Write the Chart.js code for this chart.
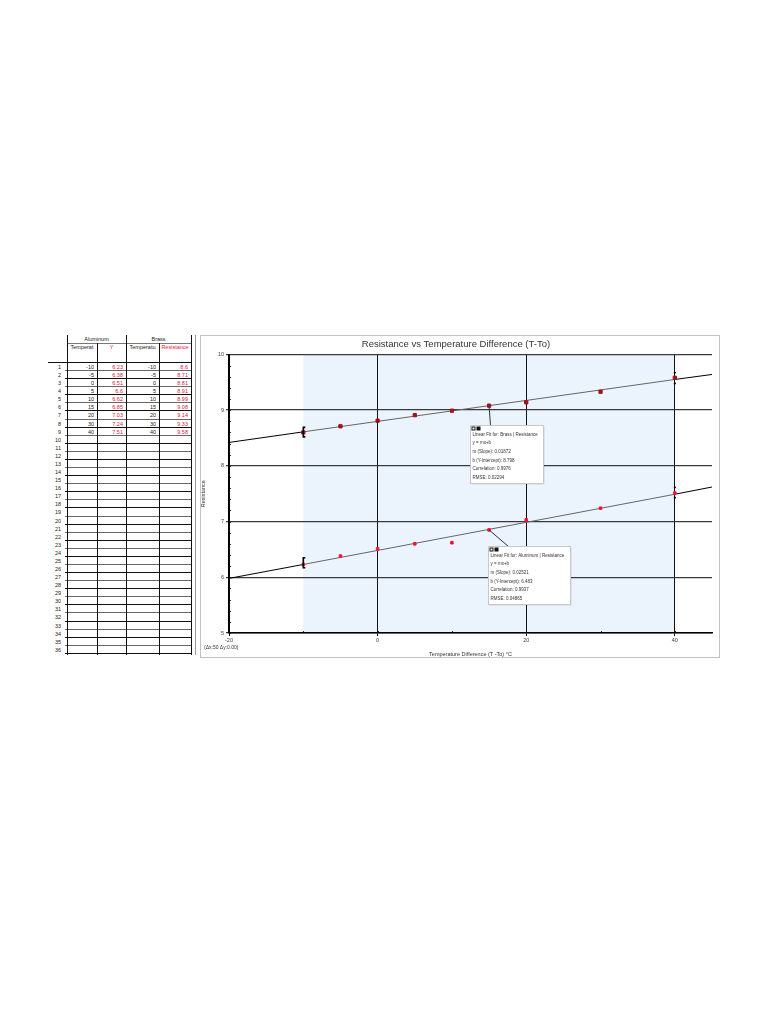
<!DOCTYPE html>
<html>
<head>
<meta charset="utf-8">
<script src="https://cdn.jsdelivr.net/npm/chart.js@4.4.1/dist/chart.umd.min.js"></script>
<style>
  html, body { margin: 0; padding: 0; background: #fff; width: 768px; height: 1024px; overflow: hidden; }
  #sheet { position: absolute; left: 48px; top: 335px; width: 150px; height: 320px; overflow: hidden;
           font-family: "Liberation Sans", Arial, sans-serif; font-size: 5.5px; color: #222; }
  #sheet div { position: absolute; }
  .cell { text-align: right; line-height: 8px; height: 8px; white-space: nowrap; overflow: hidden; }
  .red { color: #e0203a; }
  #box { position: absolute; left: 200px; top: 335px; width: 520px; height: 323px; }
  #frame { position: absolute; left: 200px; top: 335px; width: 520px; height: 323px; border: 1px solid #c4c4c4; box-sizing: border-box; pointer-events: none; }
</style>
</head>
<body>
<div id="sheet"></div>
<div id="box"><canvas id="chart"></canvas></div>
<div id="frame"></div>
<script>
// data table (left) and chart values
const alTemp = [-10, -5, 0, 5, 10, 15, 20, 30, 40];
const alRes = [6.23, 6.38, 6.51, 6.6, 6.62, 6.85, 7.03, 7.24, 7.51];
const brTemp = [-10, -5, 0, 5, 10, 15, 20, 30, 40];
const brRes = [8.6, 8.71, 8.81, 8.91, 8.99, 9.08, 9.14, 9.33, 9.58];

// fit lines (ends + range of fit)
const fitX = [-20, -10, 40, 45];
const brFit = [8.42, 8.61, 9.55, 9.64];
const alFit = [5.98, 6.23, 7.49, 7.62];

// error bars at the ends of the fitted range
const errX = [-10, 40];
const brErrLo = [8.52, 9.48];
const brErrHi = [8.69, 9.67];
const alErrLo = [6.17, 7.43];
const alErrHi = [6.35, 7.61];

const xTicks = [-20, 0, 20, 40];
const yTicks = [5, 6, 7, 8, 9, 10];
const shadeRange = [-10, 40];

const brassFitText = ["Linear Fit for: Brass | Resistance", "y = mx+b", "m (Slope): 0.01872",
  "b (Y-Intercept): 8.798", "Correlation: 0.9976", "RMSE: 0.02294"];
const alFitText = ["Linear Fit for: Aluminum | Resistance", "y = mx+b", "m (Slope): 0.02521",
  "b (Y-Intercept): 6.483", "Correlation: 0.9937", "RMSE: 0.04865"];

// ---- spreadsheet ----
const sheet = document.getElementById("sheet");
const colX = [19, 49, 78, 111, 143];
const rowTop = 27, rowH = 8.08, nRows = 36;
function add(html, css, cls) {
  const d = document.createElement("div");
  d.innerHTML = html;
  Object.assign(d.style, css);
  if (cls) d.className = cls;
  sheet.appendChild(d);
  return d;
}
// group headers
add("Aluminum", { left: colX[0] + "px", top: "1px", width: (colX[2] - colX[0]) + "px", textAlign: "center" });
add("Brass", { left: colX[2] + "px", top: "1px", width: (colX[4] - colX[2]) + "px", textAlign: "center" });
const heads = [["Temperat", ""], ["Y", "red"], ["Temperatu", ""], ["Resistance", "red"]];
heads.forEach((h, i) => {
  add(h[0], { left: colX[i] + 1 + "px", top: "9px", width: (colX[i + 1] - colX[i] - 2) + "px",
    textAlign: "center", overflow: "hidden", whiteSpace: "nowrap" }, h[1]);
});
add("", { left: colX[0] + "px", top: "8px", width: (colX[4] - colX[0]) + "px", height: "1px", background: "#777" });
add("", { left: "0px", top: rowTop + "px", width: colX[4] + "px", height: "1px", background: "#111" });
for (let r = 0; r < nRows; r++) {
  const y = rowTop + r * rowH;
  add(String(r + 1), { left: "0px", top: (y + 1) + "px", width: "13px" }, "cell");
  add("", { left: "17px", top: (y + rowH) + "px", width: (colX[4] - 17) + "px", height: "1px",
    background: r % 2 ? "#111" : "#666" });
  if (r < alTemp.length) {
    add(alTemp[r], { left: colX[0] + "px", top: (y + 1) + "px", width: (colX[1] - colX[0] - 3) + "px" }, "cell");
    add(alRes[r], { left: colX[1] + "px", top: (y + 1) + "px", width: (colX[2] - colX[1] - 3) + "px" }, "cell red");
    add(brTemp[r], { left: colX[2] + "px", top: (y + 1) + "px", width: (colX[3] - colX[2] - 3) + "px" }, "cell");
    add(brRes[r], { left: colX[3] + "px", top: (y + 1) + "px", width: (colX[4] - colX[3] - 3) + "px" }, "cell red");
  }
}
colX.forEach((x, i) => {
  add("", { left: x + "px", top: (i === 1 || i === 3 ? 8 : 0) + "px", width: "1px", height: "320px", background: "#111" });
});
add("", { left: "147px", top: "0px", width: "1px", height: "320px", background: "#999" });

// ---- chart ----
const shadePlugin = {
  id: "shade",
  beforeDraw(chart) {
    const { ctx, chartArea: a, scales: { x, y } } = chart;
    const x0 = x.getPixelForValue(shadeRange[0]), x1 = x.getPixelForValue(shadeRange[1]);
    ctx.save();
    ctx.fillStyle = "#ebf3fc";
    ctx.fillRect(x0, a.top, x1 - x0, a.bottom - a.top);
    // minor ticks
    ctx.strokeStyle = "#333";
    ctx.lineWidth = 1;
    for (let v = 5; v <= 10.001; v += 0.2) {
      const py = Math.round(y.getPixelForValue(v)) + 0.5;
      ctx.beginPath(); ctx.moveTo(a.left, py); ctx.lineTo(a.left + 2, py); ctx.stroke();
    }
    for (let v = -20; v <= 45; v += 10) {
      const px = Math.round(x.getPixelForValue(v)) + 0.5;
      ctx.beginPath(); ctx.moveTo(px, a.bottom); ctx.lineTo(px, a.bottom - 2); ctx.stroke();
    }
    ctx.restore();
  },
  afterDatasetsDraw(chart) {
    const { ctx, chartArea: a, scales: { x, y } } = chart;
    ctx.save();
    // error bars
    ctx.strokeStyle = "#000";
    ctx.lineWidth = 1.6;
    const bars = [[brErrLo, brErrHi], [alErrLo, alErrHi]];
    bars.forEach(([lo, hi]) => {
      errX.forEach((ex, i) => {
        const px = x.getPixelForValue(ex), p0 = y.getPixelForValue(lo[i]), p1 = y.getPixelForValue(hi[i]);
        ctx.beginPath();
        if (i === 0) {
          ctx.moveTo(px + 2, p1); ctx.lineTo(px, p1); ctx.lineTo(px, p0); ctx.lineTo(px + 2, p0);
        } else {
          ctx.moveTo(px - 1, p1); ctx.lineTo(px + 1, p1);
          ctx.moveTo(px - 1, p0); ctx.lineTo(px + 1, p0);
        }
        ctx.stroke();
      });
    });
    // fit info boxes
    const boxes = [
      { text: brassFitText, from: [15, 9.08], at: [12.4, 8.735], w: 73, h: 58 },
      { text: alFitText, from: [15, 6.85], at: [14.9, 6.555], w: 82, h: 58 }
    ];
    boxes.forEach(b => {
      const bx = Math.round(x.getPixelForValue(b.at[0])) + 0.5, by = Math.round(y.getPixelForValue(b.at[1])) + 0.5;
      const fx = x.getPixelForValue(b.from[0]), fy = y.getPixelForValue(b.from[1]);
      ctx.strokeStyle = "#333"; ctx.lineWidth = 1;
      ctx.beginPath(); ctx.moveTo(fx, fy); ctx.lineTo(bx + 20, by); ctx.stroke();
      ctx.fillStyle = "rgba(0,0,0,0.12)";
      ctx.fillRect(bx + 1, by + 1, b.w, b.h);
      ctx.fillStyle = "#fff";
      ctx.fillRect(bx, by, b.w, b.h);
      ctx.strokeStyle = "#c8c8c8";
      ctx.strokeRect(bx, by, b.w, b.h);
      ctx.fillStyle = "#111";
      ctx.fillRect(bx + 1, by + 1, 4, 4);
      ctx.fillRect(bx + 6, by + 1, 4, 4);
      ctx.fillStyle = "#fff";
      ctx.fillRect(bx + 2, by + 2, 2, 2);
      ctx.fillStyle = "#333";
      ctx.font = "4.5px 'Liberation Sans', Arial, sans-serif";
      ctx.textBaseline = "middle";
      b.text.forEach((t, i) => ctx.fillText(t, bx + 2, by + 9 + i * 8.6));
    });
    // readout
    ctx.fillStyle = "#333";
    ctx.font = "5px 'Liberation Sans', Arial, sans-serif";
    ctx.textBaseline = "middle";
    ctx.fillText("(Δx:50 Δy:0.00)", 4, 313);
    ctx.restore();
  }
};

const pts = (xs, ys) => xs.map((v, i) => ({ x: v, y: ys[i] }));
const segColor = c => (c.p0DataIndex === 1 ? "#666" : "#000");

new Chart(document.getElementById("chart"), {
  type: "scatter",
  data: {
    datasets: [
      { label: "Brass", data: pts(brTemp, brRes), pointStyle: "rect", pointRadius: 2.3,
        backgroundColor: "#a4101a", borderColor: "#a4101a", order: 1 },
      { label: "Aluminum", data: pts(alTemp, alRes), pointStyle: "rect", pointRadius: 1.8,
        backgroundColor: "#ff1030", borderColor: "#ff1030", order: 1 },
      { label: "Brass fit", type: "line", data: pts(fitX, brFit), showLine: true, pointRadius: 0,
        borderWidth: 1, borderColor: "#000", segment: { borderColor: segColor }, order: 2 },
      { label: "Aluminum fit", type: "line", data: pts(fitX, alFit), showLine: true, pointRadius: 0,
        borderWidth: 1, borderColor: "#000", segment: { borderColor: segColor }, order: 2 }
    ]
  },
  options: {
    responsive: true,
    maintainAspectRatio: false,
    animation: false,
    layout: { padding: { top: 0, right: 8, bottom: 0, left: 0 } },
    plugins: {
      legend: { display: false },
      tooltip: { enabled: false },
      title: {
        display: true,
        text: "Resistance vs Temperature Difference (T-To)",
        color: "#333",
        font: { family: "'Liberation Sans', Arial, sans-serif", size: 9.5, weight: "normal" },
        padding: { top: 4, bottom: 4 }
      }
    },
    scales: {
      x: {
        type: "linear",
        min: -20,
        max: 45,
        afterBuildTicks: s => { s.ticks = xTicks.map(v => ({ value: v })); },
        afterFit: s => { s.height = 25; },
        grid: { color: "#111", lineWidth: 1, tickLength: 3, drawTicks: true },
        border: { color: "#000", width: 1.5 },
        ticks: { color: "#444", font: { size: 5.5, family: "'Liberation Sans', Arial, sans-serif" }, padding: 1, maxRotation: 0 },
        title: { display: true, text: "Temperature Difference (T -To) °C", color: "#333",
          font: { size: 5.5, family: "'Liberation Sans', Arial, sans-serif" }, padding: { top: 1, bottom: 0 } }
      },
      y: {
        min: 5,
        max: 10,
        afterBuildTicks: s => { s.ticks = yTicks.map(v => ({ value: v })); },
        afterFit: s => { s.width = 29; },
        grid: { color: "#3a3a3a", lineWidth: 1.3, tickLength: 3 },
        border: { color: "#000", width: 1.5 },
        ticks: { color: "#444", font: { size: 5.5, family: "'Liberation Sans', Arial, sans-serif" }, padding: 2 },
        title: { display: true, text: "Resistance", color: "#333",
          font: { size: 5.5, family: "'Liberation Sans', Arial, sans-serif" }, padding: 0 }
      }
    }
  },
  plugins: [shadePlugin]
});
</script>
</body>
</html>
